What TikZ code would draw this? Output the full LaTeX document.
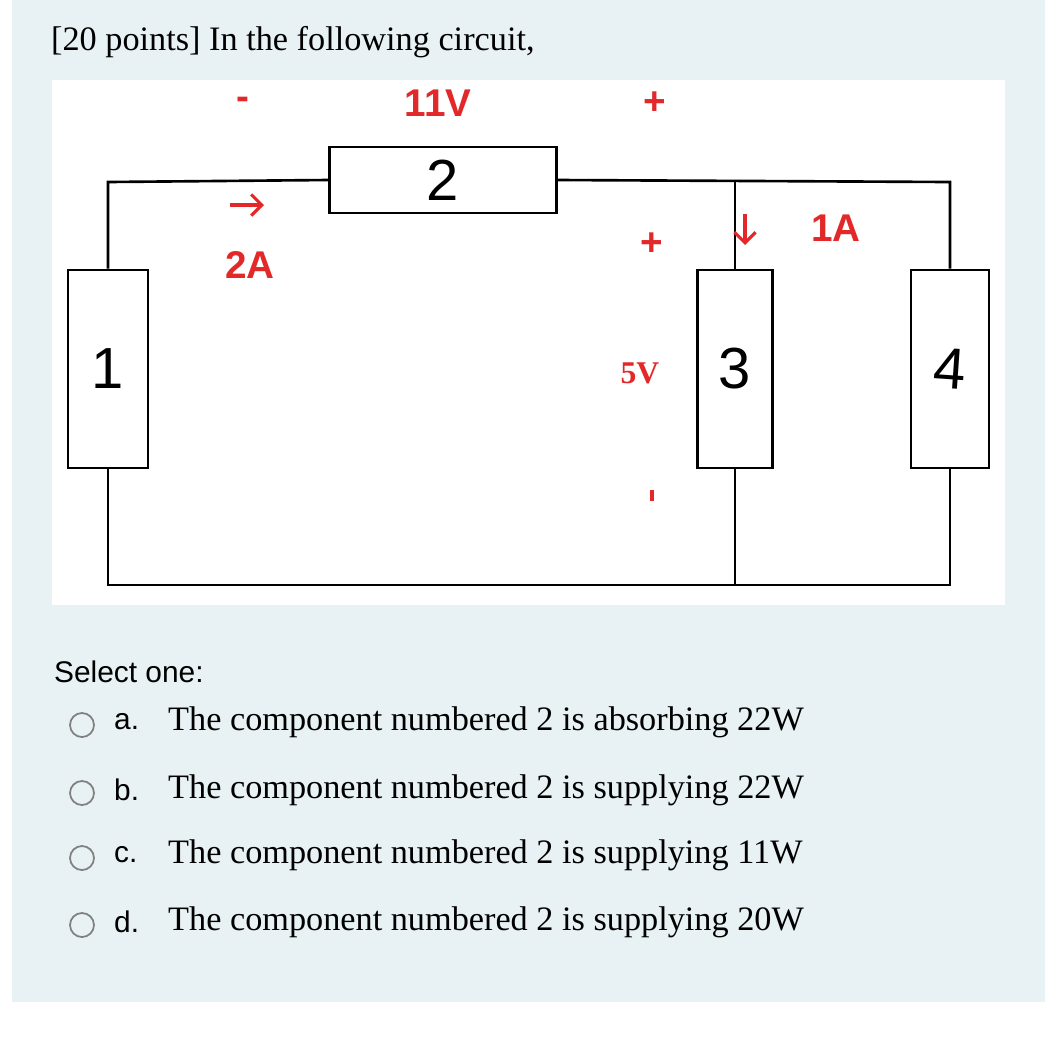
\documentclass[tikz,border=0pt]{standalone}
\usepackage{fontspec}
\setmainfont{Liberation Serif}
\setsansfont{Liberation Sans}
\usetikzlibrary{arrows.meta}
\definecolor{panel}{RGB}{232,241,244}
\definecolor{lbl}{RGB}{226,40,40}
\begin{document}
\begin{tikzpicture}[x=0.02cm,y=-0.02cm,
  res/.style={draw,line width=1.5pt,fill=white,inner sep=0pt},
  num/.style={font=\sffamily\fontsize{33}{33}\selectfont},
  red/.style={text=lbl,font=\sffamily\bfseries\fontsize{22}{22}\selectfont},
  arr/.style={lbl,line width=1.8pt,-{Straight Barb[length=6pt,width=12pt]}},
  txt/.style={anchor=west,font=\fontsize{19.5}{22}\selectfont},
  let/.style={anchor=west,font=\sffamily\fontsize{17}{20}\selectfont},
  radio/.style={draw=gray,line width=1pt,circle,minimum size=0.48cm,inner sep=0pt}]
\useasboundingbox (0,0) rectangle (1061,1039);
\fill[panel] (12,0) rectangle (1045,1002);
\fill[white] (52,80) rectangle (1005,605);
%Komponentene
\node[res,minimum width=1.6cm,minimum height=3.96cm] (r1) at (108,369) {};
\node[res,minimum width=4.54cm,minimum height=1.32cm] (r2) at (443,180) {};
\node[res,minimum width=1.5cm,minimum height=3.96cm] (r3) at (735,369) {};
\node[res,minimum width=1.56cm,minimum height=3.96cm] (r4) at (950,369) {};
\node[num] at (r1) {1};
\node[num] at (r2) {2};
\node[num] at (r3) {3};
\node[num,rotate=-4] at (r4) {4};
\coordinate (tl) at (108,182);
\coordinate (tm) at (735,182);
\coordinate (tr) at (950,182);
\coordinate (bl) at (108,585);
\coordinate (bm) at (735,585);
\coordinate (br) at (950,585);
%Ledningene
\draw[line width=1.5pt] (r1.north) -- (tl) -- (r2.west);
\draw[line width=1.5pt] (r2.east) -- (tr) -- (r4.north);
\draw[line width=1.5pt] (tm) -- (r3.north);
\draw[line width=1.5pt] (r1.south) -- (bl) -- (br) -- (r4.south);
\draw[line width=1.5pt] (r3.south) -- (bm);
%Etikettene
\node[red] at (243,103) {-};
\node[red] at (438,103) {11V};
\node[red] at (655,103) {+};
\coordinate (a1) at (230,205);
\coordinate (a2) at (264,205);
\draw[arr] (a1) -- (a2);
\node[red] at (250,265) {2A};
\node[red] at (652,244) {+};
\coordinate (b1) at (745,214);
\coordinate (b2) at (745,245);
\draw[arr] (b1) -- (b2);
\node[red,anchor=west] at (805,228) {1A};
\node[text=lbl,font=\bfseries\fontsize{18}{18}\selectfont] at (640,373) {5V};
\draw[lbl,line width=2.5pt] (652,490) -- (652,501);
%Teksten
\node[txt] at (45,42) {[20 points] In the following circuit,};
\node[let] at (48,672) {Select one:};
\foreach \y/\l/\w in {725/a./absorbing 22W,793/b./supplying 22W,858/c./supplying 11W,925/d./supplying 20W}{
  \node[radio] at (82,\y) {};
  \node[let] at (108,\y-3) {\l};
  \node[txt] at (162,\y-3) {The component numbered 2 is \w};
}
\end{tikzpicture}
\end{document}
